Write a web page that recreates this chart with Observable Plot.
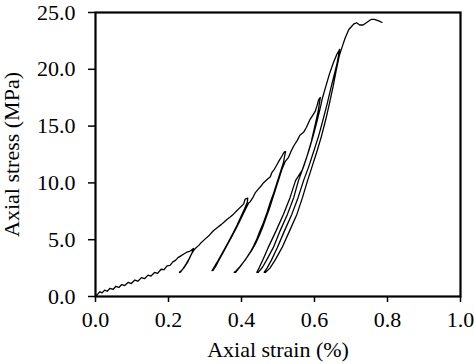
<!DOCTYPE html>
<html>
<head>
<meta charset="utf-8">
<script src="https://cdn.jsdelivr.net/npm/d3@7"></script>
<script src="https://cdn.jsdelivr.net/npm/@observablehq/plot@0.6"></script>
<style>
  html, body { margin: 0; padding: 0; background: #fff; }
  #chart { width: 474px; height: 364px; overflow: hidden; }
</style>
</head>
<body>
<div id="chart"></div>
<script>
// Tick labels
const xTicks = [0, 0.2, 0.4, 0.6, 0.8, 1.0];
const yTicks = [0, 5, 10, 15, 20, 25];

// Curve segments, [axial strain (%), axial stress (MPa)], in test order
const envelope0 = [[0.000,0.00],[0.008,0.28],[0.012,0.42],[0.018,0.32],[0.025,0.56],[0.032,0.46],[0.040,0.72],[0.048,0.62],[0.056,0.90],[0.064,0.80],[0.072,1.05],[0.080,0.96],[0.090,1.25],[0.098,1.14],[0.108,1.45],[0.116,1.35],[0.126,1.66],[0.134,1.57],[0.144,1.88],[0.152,1.80],[0.162,2.12],[0.170,2.04],[0.180,2.40],[0.188,2.36],[0.196,2.70],[0.204,2.74],[0.212,3.05],[0.219,3.18],[0.226,3.42],[0.234,3.58],[0.242,3.74],[0.250,3.90],[0.258,3.98],[0.264,4.10],[0.268,4.22]];
const loop1Unload = [[0.265,3.90],[0.259,3.45],[0.252,3.00],[0.244,2.60],[0.236,2.30],[0.230,2.13]];
const loop1Reload = [[0.233,2.15],[0.240,2.45],[0.248,2.85],[0.256,3.30],[0.264,3.80],[0.270,4.10],[0.274,4.25]];
const envelope1 = [[0.283,4.50],[0.290,4.76],[0.300,5.05],[0.312,5.40],[0.323,5.79],[0.335,6.10],[0.345,6.35],[0.351,6.52],[0.360,6.78],[0.369,7.00],[0.378,7.25],[0.387,7.55],[0.395,7.80],[0.401,7.98],[0.406,8.15],[0.410,8.57],[0.414,8.62],[0.417,8.66]];
const loop2Unload = [[0.416,8.30],[0.408,7.70],[0.398,7.00],[0.388,6.30],[0.378,5.65],[0.369,5.10],[0.358,4.45],[0.347,3.80],[0.337,3.22],[0.328,2.75],[0.321,2.35],[0.319,2.28]];
const loop2Reload = [[0.322,2.30],[0.330,2.70],[0.340,3.30],[0.351,3.95],[0.362,4.60],[0.373,5.25],[0.383,5.85],[0.393,6.50],[0.403,7.15],[0.412,7.75],[0.419,8.20],[0.424,8.35]];
const envelope2 = [[0.431,8.70],[0.438,9.15],[0.446,9.45],[0.453,9.70],[0.460,10.00],[0.470,10.30],[0.479,10.55],[0.483,10.90],[0.490,11.20],[0.497,11.60],[0.504,12.00],[0.511,12.37],[0.517,12.72],[0.521,12.75]];
const loop3Unload = [[0.519,12.50],[0.515,11.80],[0.506,10.90],[0.497,10.00],[0.488,9.10],[0.479,8.30],[0.470,7.40],[0.460,6.50],[0.451,5.80],[0.442,5.06],[0.433,4.45],[0.424,3.90],[0.410,3.20],[0.395,2.60],[0.385,2.25],[0.380,2.13]];
const loop3Reload = [[0.384,2.13],[0.398,2.70],[0.414,3.40],[0.428,4.05],[0.439,4.70],[0.449,5.40],[0.458,6.10],[0.467,6.90],[0.476,7.70],[0.485,8.60],[0.494,9.50],[0.503,10.40],[0.512,11.30],[0.520,11.90],[0.529,12.25]];
const envelope3 = [[0.536,12.80],[0.543,13.25],[0.552,13.70],[0.560,14.20],[0.570,14.45],[0.578,14.90],[0.588,15.60],[0.595,15.95],[0.602,16.30],[0.607,16.80],[0.611,17.30],[0.616,17.52]];
const loop4Unload = [[0.610,16.30],[0.601,15.00],[0.591,13.60],[0.580,12.40],[0.566,11.10],[0.548,10.20],[0.533,8.70],[0.515,7.25],[0.495,5.80],[0.473,4.30],[0.458,3.20],[0.448,2.50],[0.442,2.13]];
const loop4Reload = [[0.446,2.13],[0.458,2.60],[0.472,3.40],[0.487,4.30],[0.506,5.80],[0.526,7.25],[0.543,8.70],[0.556,10.20],[0.571,11.50],[0.585,12.90],[0.596,14.10],[0.606,15.30],[0.615,16.50],[0.622,17.50],[0.631,18.50],[0.641,19.60],[0.652,20.60],[0.661,21.30],[0.669,21.75]];
const loop5Unload = [[0.661,20.40],[0.646,18.50],[0.635,17.00],[0.623,15.50],[0.611,14.10],[0.597,12.70],[0.585,11.50],[0.570,10.20],[0.555,8.70],[0.538,7.25],[0.518,5.80],[0.498,4.30],[0.482,3.20],[0.470,2.50],[0.462,2.13]];
const loop5Reload = [[0.466,2.13],[0.478,2.50],[0.492,3.20],[0.511,4.30],[0.532,5.80],[0.552,7.25],[0.567,8.70],[0.581,10.20],[0.594,11.50],[0.606,12.70],[0.619,14.10],[0.631,15.60],[0.641,17.00],[0.651,18.50],[0.660,20.00],[0.668,21.20],[0.676,22.00]];
const envelope5 = [[0.684,22.75],[0.694,23.50],[0.707,23.97],[0.715,24.10],[0.724,23.90],[0.733,23.90],[0.744,24.15],[0.755,24.39],[0.764,24.40],[0.776,24.26],[0.785,24.12]];

const segments = [envelope0, loop1Unload, loop1Reload, envelope1, loop2Unload, loop2Reload, envelope2,
  loop3Unload, loop3Reload, envelope3, loop4Unload, loop4Reload, loop5Unload, loop5Reload, envelope5];
const curve = segments.flat().map(([strain, stress]) => ({strain, stress}));

const chart = Plot.plot({
  width: 474,
  height: 364,
  marginLeft: 95,
  marginRight: 14,
  marginTop: 12,
  marginBottom: 68,
  style: {fontFamily: "'Liberation Serif', 'Times New Roman', serif", fontSize: "22px", color: "black", background: "white", overflow: "visible"},
  x: {domain: [0, 1]},
  y: {domain: [0, 25]},
  marks: [
    Plot.axisX({ticks: xTicks, tickFormat: d => d.toFixed(1), tickSize: 6, tickPadding: 9, strokeWidth: 1.5,
      label: "Axial strain (%)", labelAnchor: "center", labelArrow: "none", labelOffset: 60, fontSize: 22}),
    Plot.axisY({ticks: yTicks, tickFormat: d => d.toFixed(1), tickSize: 7, tickPadding: 13, strokeWidth: 1.5,
      label: "Axial stress (MPa)", labelAnchor: "center", labelArrow: "none", labelOffset: 92, fontSize: 22}),
    Plot.frame({stroke: "black", strokeWidth: 2.2}),
    Plot.line(curve, {x: "strain", y: "stress", stroke: "black", strokeWidth: 1.3})
  ]
});
document.getElementById("chart").appendChild(chart);
</script>
</body>
</html>
